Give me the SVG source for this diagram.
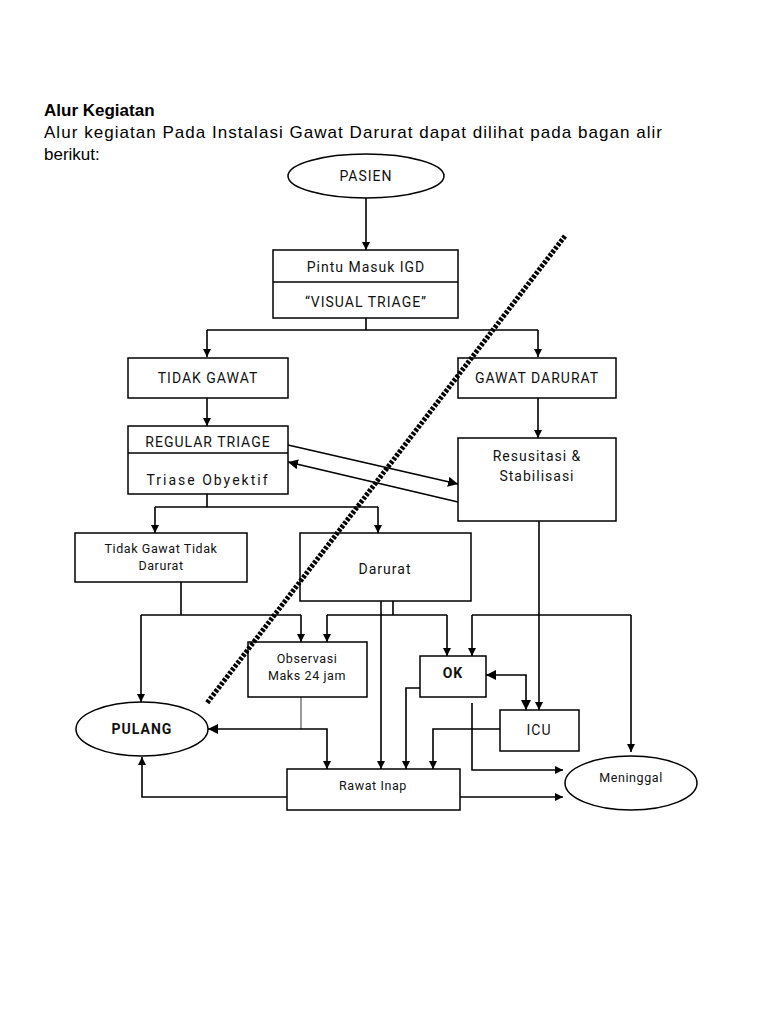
<svg xmlns="http://www.w3.org/2000/svg" width="768" height="1024" viewBox="0 0 768 1024">
<style>
.b{fill:#fff;stroke:#000;stroke-width:1.5}
.t{font-family:Roboto,"Liberation Sans",sans-serif;font-size:14px;letter-spacing:1px;fill:#111;text-anchor:middle}
.s{font-size:12.5px;letter-spacing:0.6px}
.c{fill:none;stroke:#000;stroke-width:1.6}
.p{font-family:"Liberation Sans",Arial,sans-serif;font-size:17px;fill:#000}
</style>
<defs><marker id="a" viewBox="0 0 10 10" refX="10" refY="5" markerWidth="8" markerHeight="8" markerUnits="userSpaceOnUse" orient="auto"><path d="M0,0L10,5L0,10z" fill="#000"/></marker>
<marker id="a2" viewBox="0 0 10 10" refX="10" refY="5" markerWidth="10" markerHeight="10" markerUnits="userSpaceOnUse" orient="auto-start-reverse"><path d="M0,0L10,5L0,10z" fill="#000"/></marker></defs>
<rect width="768" height="1024" fill="#fff"/>
<text class="p" x="44" y="116" font-weight="bold">Alur Kegiatan</text>
<text class="p" x="44" y="138" textLength="618" lengthAdjust="spacing">Alur kegiatan Pada Instalasi Gawat Darurat dapat dilihat pada bagan alir</text>
<text class="p" x="44" y="160">berikut:</text>
<g id="connectors" class="c">
<path d="M366,198V250" marker-end="url(#a)"/>
<path d="M366,318V330M207,330H538"/>
<path d="M207,330V357" marker-end="url(#a)"/><path d="M538,330V357" marker-end="url(#a)"/>
<path d="M207,398V426" marker-end="url(#a)"/>
<path d="M538,398V438" marker-end="url(#a)"/>
<path d="M288,445L458,484" marker-end="url(#a2)"/>
<path d="M458,502L288,462" marker-end="url(#a2)"/>
<path d="M207,494V507H378M155,507H207"/>
<path d="M155,507V533" marker-end="url(#a)"/><path d="M378,507V533" marker-end="url(#a)"/>
<path d="M181,582V615H141M181,615H301"/>
<path d="M141,615V702" marker-end="url(#a)"/><path d="M301,615V642" marker-end="url(#a)"/>
<path d="M381,601V769" marker-end="url(#a)"/>
<path d="M393,601V615H327M393,615H447"/>
<path d="M327,615V642" marker-end="url(#a)"/><path d="M447,615V656" marker-end="url(#a)"/>
<path d="M472,615H631"/>
<path d="M472,615V656" marker-end="url(#a)"/><path d="M631,615V752" marker-end="url(#a)"/>
<path d="M539,521V710" marker-end="url(#a)"/>
<path d="M486,675H526V710" marker-start="url(#a2)" marker-end="url(#a2)"/>
<path d="M420,688H406V769" marker-end="url(#a)"/>
<path d="M500,729H433V769" marker-end="url(#a)"/>
<path d="M472,703V770H563" marker-end="url(#a)"/>
<path d="M301,697V729" stroke-width="0.8"/>
<path d="M208,729H327V769" marker-start="url(#a2)" marker-end="url(#a)"/>
<path d="M287,797H142V757" marker-end="url(#a)"/>
<path d="M460,797H563" marker-end="url(#a)"/>
</g>
<g id="pasien"><ellipse class="b" cx="366" cy="176" rx="78" ry="22"/><text class="t" x="366" y="181">PASIEN</text></g>
<g id="pintu"><rect class="b" x="273" y="250" width="185" height="68"/><line x1="273" y1="282" x2="458" y2="282" stroke="#000" stroke-width="1.5"/><text class="t" x="366" y="272">Pintu Masuk IGD</text><text class="t" x="366" y="307">“VISUAL TRIAGE”</text></g>
<g id="tidakgawat"><rect class="b" x="128" y="358" width="160" height="40"/><text class="t" x="208" y="383">TIDAK GAWAT</text></g>
<g id="gawatdarurat"><rect class="b" x="458" y="358" width="158" height="40"/><text class="t" x="537" y="383">GAWAT DARURAT</text></g>
<g id="regular"><rect class="b" x="128" y="426" width="160" height="68"/><line x1="128" y1="453" x2="288" y2="453" stroke="#000" stroke-width="1.5"/><text class="t" x="208" y="447">REGULAR TRIAGE</text><text class="t" x="208" y="485" style="letter-spacing:2px">Triase Obyektif</text></g>
<g id="resusitasi"><rect class="b" x="458" y="438" width="158" height="83"/><text class="t" x="537" y="461">Resusitasi &amp;</text><text class="t" x="537" y="481">Stabilisasi</text></g>
<g id="tgtd"><rect class="b" x="75" y="533" width="172" height="49"/><text class="t s" x="161" y="553">Tidak Gawat Tidak</text><text class="t s" x="161" y="570">Darurat</text></g>
<g id="darurat"><rect class="b" x="300" y="533" width="171" height="68"/><text class="t" x="385" y="574">Darurat</text></g>
<g id="observasi"><rect class="b" x="248" y="642" width="119" height="55"/><text class="t s" x="307" y="663">Observasi</text><text class="t s" x="307" y="680">Maks 24 jam</text></g>
<g id="ok"><rect class="b" x="420" y="656" width="66" height="41"/><text class="t" x="453" y="678" font-weight="bold">OK</text></g>
<g id="icu"><rect class="b" x="500" y="710" width="79" height="41"/><text class="t" x="539" y="735">ICU</text></g>
<g id="pulang"><ellipse class="b" cx="142" cy="729" rx="66" ry="27"/><text class="t" x="142" y="734" font-weight="bold">PULANG</text></g>
<g id="rawatinap"><rect class="b" x="287" y="769" width="173" height="41"/><text class="t s" x="373" y="790">Rawat Inap</text></g>
<g id="meninggal"><ellipse class="b" cx="631" cy="783" rx="66" ry="27"/><text class="t s" x="631" y="782">Meninggal</text></g>
<line x1="565" y1="236" x2="207" y2="703" stroke="#000" stroke-width="5" stroke-dasharray="3 1.5"/>
</svg>
